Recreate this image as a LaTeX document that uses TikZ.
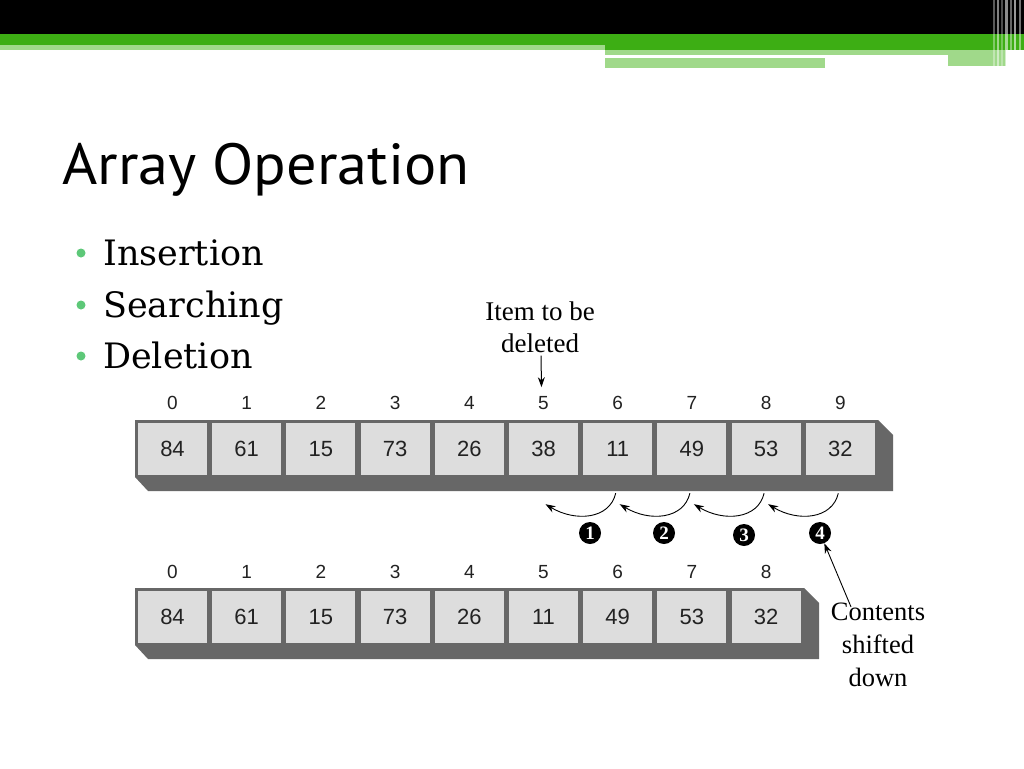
\documentclass[tikz,border=0pt]{standalone}
\usepackage{fontspec}
\setmainfont{Liberation Serif}
\newfontfamily\titlefont{PT Sans}
\newfontfamily\bulletfont{DejaVu Serif}
\newfontfamily\arrfont{Liberation Sans}
\usetikzlibrary{arrows.meta,calc}
\definecolor{dkgreen}{HTML}{3DAE14}
\definecolor{ltgreen}{HTML}{A0D98A}
\definecolor{bulletgreen}{HTML}{5DC878}
\definecolor{framegray}{HTML}{676767}
\definecolor{cellgray}{HTML}{DDDDDD}
\definecolor{celltext}{HTML}{222222}
\tikzset{
  cellbox/.style={fill=cellgray, minimum width=69pt, minimum height=52pt, inner sep=0pt,
    text=celltext, font=\arrfont\fontsize{22}{22}\selectfont},
  idxlabel/.style={inner sep=0pt, text=celltext, font=\arrfont\fontsize{19}{19}\selectfont},
  stepcircle/.style={circle, fill=black, minimum size=22pt, inner sep=0pt, text=white,
    font=\bfseries\fontsize{19}{19}\selectfont},
  bulletdot/.style={circle, fill=bulletgreen, minimum size=9pt, inner sep=0pt},
  bullettext/.style={anchor=base west, inner sep=0pt, font=\bulletfont\fontsize{35}{40}\selectfont},
  notetext/.style={align=center, inner sep=0pt, font=\fontsize{26.5}{33}\selectfont},
  shiftarrow/.style={line width=0.9pt, -{Stealth[length=10pt,width=7pt]}},
  pointarrow/.style={line width=1pt, -{Stealth[length=10pt,width=7pt]}}
}
\begin{document}
\begin{tikzpicture}[x=1pt,y=-1pt]
\useasboundingbox (0,0) rectangle (1024,768);
\fill[white] (0,0) rectangle (1024,768);
% top bar
\fill[black] (0,0) rectangle (1024,34);
\fill[dkgreen] (0,34) rectangle (1024,45);
\fill[dkgreen] (605,45) rectangle (1024,50);
\fill[ltgreen] (0,45) rectangle (605,50);
\fill[ltgreen] (605,50) rectangle (1006,55);
\fill[ltgreen] (605,58) rectangle (825,68);
\fill[ltgreen] (948,55) rectangle (1006,66);
\foreach \x/\w/\o in {993/1.5/0.35, 997/2/0.5, 1001/1.5/0.3, 1005/2.5/0.55, 1010/1.5/0.4, 1014/2/0.6, 1019/1.5/0.45}
  \fill[white,opacity=\o] (\x,0) rectangle ++(\w,66);
% title
\node[anchor=base west, inner sep=0pt, font=\titlefont\fontsize{58}{62}\selectfont, xscale=1.04, transform shape] (title) at (62,184) {Array Operation};
% bullets
\foreach \t/\y [count=\k] in {Insertion/265, Searching/317, Deletion/368} {
  \node[bulletdot] (bd\k) at (81,\y-12) {};
  \node[bullettext] (bt\k) at (103,\y) {\t};
}
% array frames
\fill[framegray] (135,420) -- (878,420) -- (893,435) -- (893,491) -- (148,491) -- (135,477) -- cycle;
\fill[framegray] (135,588) -- (804,588) -- (819,603) -- (819,659) -- (148,659) -- (135,645) -- cycle;
% array 1
\foreach \v [count=\k from 0] in {84,61,15,73,26,38,11,49,53,32} {
  \node[cellbox] (a\k) at ({172.5+74.2*\k},449) {\v};
  \node[idxlabel] (ai\k) at ({172.5+74.2*\k},403) {\k};
}
% array 2
\foreach \v [count=\k from 0] in {84,61,15,73,26,11,49,53,32} {
  \node[cellbox] (b\k) at ({172.5+74.2*\k},617) {\v};
  \node[idxlabel] (bi\k) at ({172.5+74.2*\k},572) {\k};
}
% item to be deleted
\node[notetext, font=\fontsize{27}{32}\selectfont] (item) at (540,327) {Item to be\\deleted};
\draw[pointarrow] ($(item.south)+(1,3)$) -- ($(ai5.north)+(-2,-9)$);
% shift arrows
\foreach \i/\j in {6/5,7/6,8/7,9/8}
  \draw[shiftarrow] ($(a\i.south)+(-2,18)$) .. controls +(-6,26) and +(30,18) .. ($(a\j.south)+(2,29)$);
% step circles
\node[stepcircle] (c1) at (590,533) {1};
\node[stepcircle] (c2) at (664,533) {2};
\node[stepcircle] (c3) at (744,535) {3};
\node[stepcircle] (c4) at (820,533) {4};
% contents shifted down
\node[notetext] (cont) at (878,645) {Contents\\shifted\\down};
\draw[shiftarrow] ($(cont.north)+(-27,4)$) -- (c4);
\end{tikzpicture}
\end{document}
